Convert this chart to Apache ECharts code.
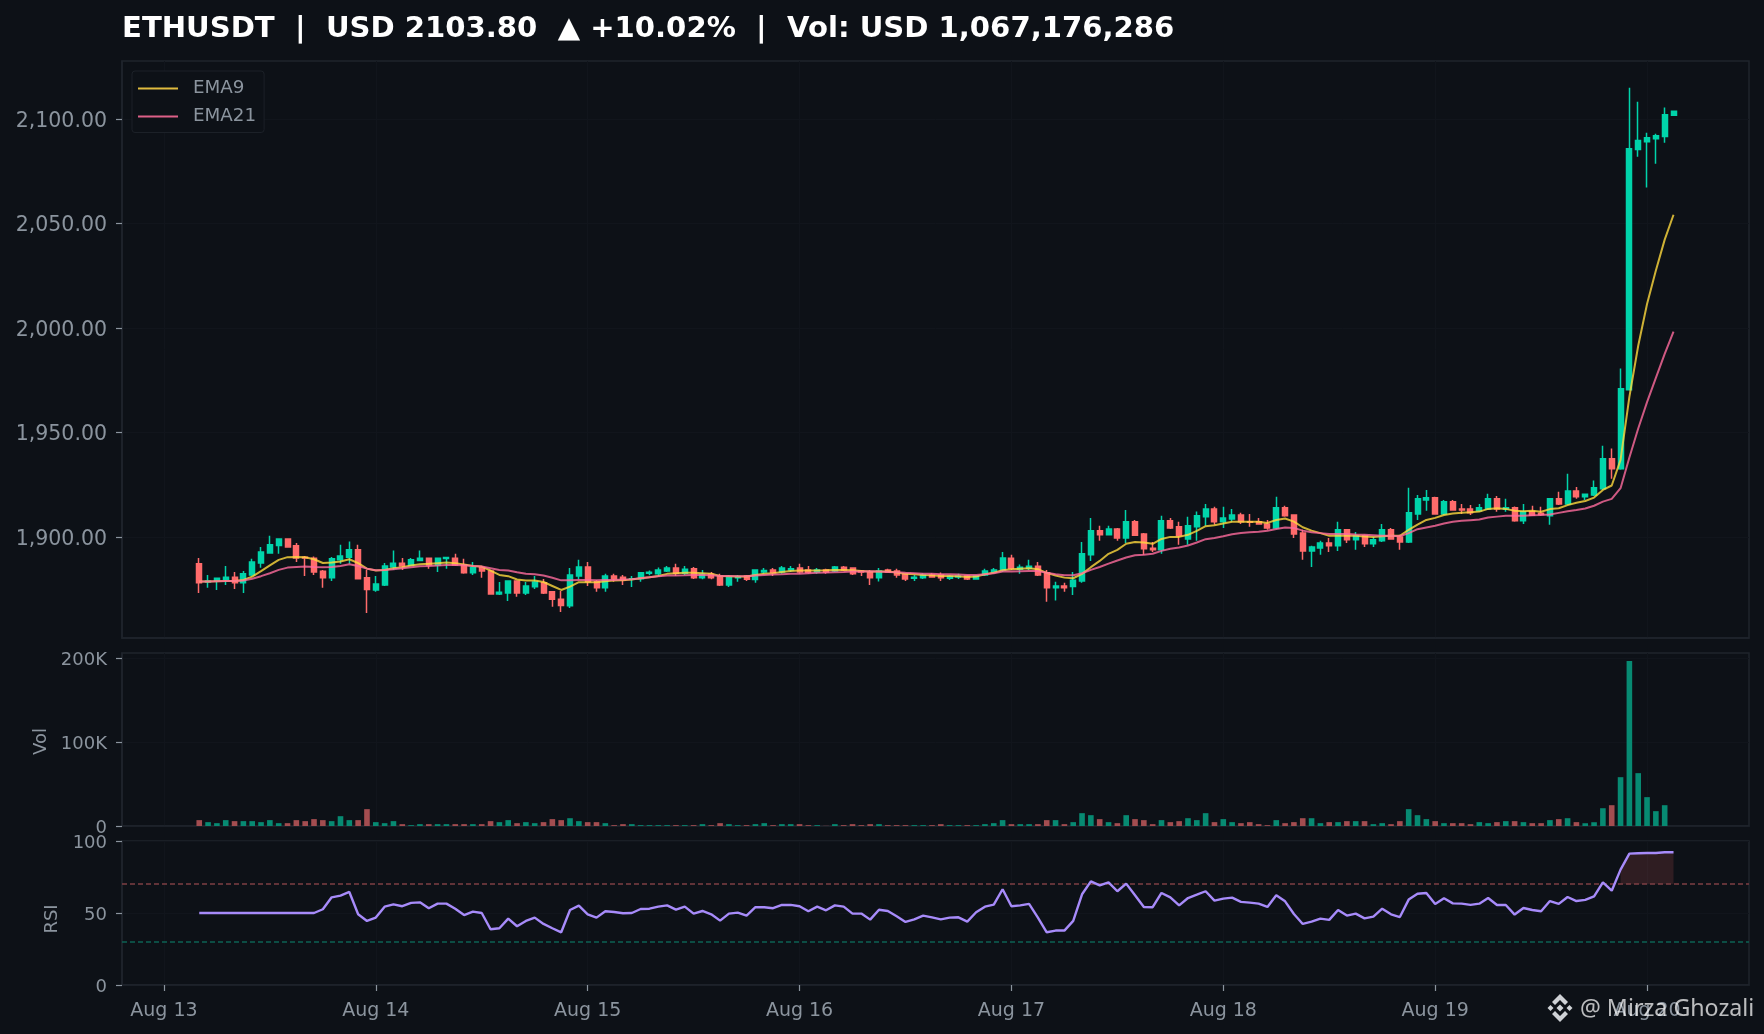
<!DOCTYPE html>
<html>
<head>
<meta charset="utf-8">
<style>html,body{margin:0;padding:0;background:#0d1117;}#c{width:1764px;height:1034px;}</style>
<script src="https://cdn.jsdelivr.net/npm/echarts@6/dist/echarts.min.js"></script>
</head>
<body>
<div id="c"></div>
<script>
const titleText = 'ETHUSDT  |  USD 2103.80  ▲ +10.02%  |  Vol: USD 1,067,176,286';
const firstHour = 4;
const dayTicks = [0, 24, 48, 72, 96, 120, 144, 168];
const dayLabels = ['Aug 13', 'Aug 14', 'Aug 15', 'Aug 16', 'Aug 17', 'Aug 18', 'Aug 19', 'Aug 20'];
const priceTicks = [1900, 1950, 2000, 2050, 2100];
const volTicks = [0, 100, 200];
const rsiTicks = [0, 50, 100];
// [open, close, low, high]
const candles = [
[1887.1,1878.1,1873.2,1889.9],[1878.4,1878.9,1875.7,1881.8],[1878.9,1880.2,1874.6,1880.4],[1879.7,1880.7,1877.0,1886.1],
[1880.7,1878.1,1875.1,1883.2],[1878.1,1882.3,1873.2,1883.7],[1881.8,1888.0,1881.0,1889.5],[1887.5,1892.8,1885.2,1895.2],
[1892.3,1896.2,1891.9,1900.6],[1895.9,1899.0,1891.9,1899.0],[1899.0,1895.2,1895.2,1899.0],[1895.7,1889.9,1888.0,1897.1],
[1890.3,1889.9,1881.3,1890.9],[1889.8,1883.2,1881.8,1890.6],[1883.6,1880.5,1875.6,1884.2],[1880.5,1889.5,1878.9,1890.4],
[1889.0,1890.9,1887.1,1896.2],[1890.3,1893.8,1887.1,1897.8],[1893.8,1880.0,1880.0,1896.2],[1880.4,1874.8,1863.6,1884.2],
[1874.6,1877.5,1873.7,1881.3],[1877.0,1886.1,1876.5,1887.5],[1885.6,1887.4,1884.2,1893.5],[1887.4,1886.1,1884.2,1889.9],
[1886.4,1889.0,1886.1,1889.9],[1888.7,1889.8,1888.5,1893.5],[1889.8,1886.6,1884.7,1889.8],[1886.6,1889.8,1883.2,1889.9],
[1889.6,1890.1,1884.7,1890.4],[1889.8,1886.6,1886.1,1891.9],[1886.6,1882.8,1882.3,1889.5],[1882.8,1885.2,1881.8,1888.0],
[1885.2,1883.7,1880.4,1886.1],[1883.7,1872.7,1872.7,1884.2],[1872.7,1873.5,1872.2,1878.4],[1873.2,1878.9,1869.3,1878.9],
[1878.9,1873.2,1871.3,1878.9],[1873.2,1876.5,1872.2,1878.4],[1876.1,1878.4,1875.1,1881.3],[1878.0,1873.2,1872.7,1879.9],
[1873.7,1870.2,1866.5,1874.1],[1870.2,1867.1,1864.1,1874.1],[1867.0,1881.8,1866.0,1885.1],[1881.3,1885.6,1879.7,1889.0],
[1885.6,1878.5,1876.5,1888.0],[1878.5,1875.6,1873.7,1879.4],[1875.6,1881.3,1873.7,1882.3],[1881.3,1880.0,1878.5,1882.3],
[1880.7,1879.4,1877.0,1881.8],[1879.7,1880.0,1876.0,1881.3],[1880.0,1882.8,1878.5,1883.2],[1882.6,1883.1,1881.6,1883.9],
[1882.3,1884.2,1881.3,1885.3],[1883.7,1885.1,1883.2,1886.1],[1885.1,1882.6,1881.3,1887.1],[1882.6,1884.5,1881.8,1886.1],
[1884.7,1880.4,1879.9,1885.6],[1880.4,1882.1,1879.7,1884.2],[1882.1,1880.4,1879.7,1883.2],[1881.3,1877.0,1876.5,1882.3],
[1877.0,1881.0,1876.0,1881.8],[1880.5,1881.0,1878.5,1881.8],[1881.3,1879.7,1878.9,1881.8],[1879.6,1884.2,1878.0,1884.2],
[1883.2,1883.9,1882.3,1885.1],[1884.2,1882.9,1881.3,1885.1],[1883.2,1885.1,1882.3,1886.1],[1884.2,1884.7,1883.2,1886.1],
[1885.1,1883.2,1882.3,1887.1],[1884.2,1882.9,1882.3,1886.1],[1883.2,1884.2,1882.3,1885.1],[1884.2,1883.2,1882.3,1884.7],
[1883.7,1885.6,1883.2,1886.1],[1885.5,1884.2,1883.7,1886.1],[1885.1,1882.3,1881.8,1885.1],[1883.7,1883.2,1881.3,1884.2],
[1883.2,1880.4,1877.0,1884.2],[1880.4,1883.7,1878.6,1885.1],[1884.2,1883.2,1882.9,1884.7],[1883.7,1881.8,1880.4,1884.7],
[1882.3,1879.9,1878.9,1882.6],[1880.2,1880.7,1878.9,1881.8],[1880.5,1881.8,1879.9,1882.6],[1881.8,1880.8,1880.4,1882.6],
[1881.8,1880.4,1878.9,1882.9],[1880.2,1881.2,1879.4,1881.8],[1880.8,1881.3,1879.9,1882.3],[1881.3,1879.9,1879.4,1881.8],
[1879.9,1881.3,1879.7,1881.8],[1881.8,1883.7,1881.3,1884.7],[1883.2,1884.2,1882.6,1885.1],[1884.2,1889.9,1883.2,1892.8],
[1889.8,1885.0,1884.2,1891.4],[1884.5,1885.5,1882.3,1886.8],[1885.0,1886.0,1884.2,1889.0],[1886.0,1881.8,1881.3,1888.0],
[1882.8,1875.6,1868.9,1884.2],[1875.6,1876.5,1869.5,1878.5],[1876.5,1875.7,1873.7,1878.1],[1876.2,1879.3,1872.2,1883.2],
[1878.9,1891.9,1878.0,1897.6],[1891.4,1902.9,1888.5,1909.1],[1902.9,1901.0,1898.1,1905.3],[1901.0,1903.8,1900.8,1905.3],
[1903.8,1899.5,1898.1,1904.3],[1899.5,1907.2,1897.1,1912.9],[1907.2,1900.8,1900.5,1908.1],[1901.4,1894.3,1891.4,1901.9],
[1894.6,1893.8,1892.8,1897.6],[1893.8,1907.7,1891.9,1910.1],[1907.7,1904.3,1903.8,1909.1],[1904.8,1900.5,1896.2,1907.2],
[1899.0,1905.3,1896.2,1909.7],[1904.8,1910.1,1898.1,1912.1],[1909.6,1913.4,1905.3,1915.8],[1913.4,1907.2,1905.8,1914.4],
[1907.2,1909.1,1904.3,1914.4],[1908.6,1910.5,1907.2,1913.4],[1910.5,1907.2,1906.2,1911.5],[1907.3,1907.0,1904.8,1911.0],
[1907.2,1906.2,1905.8,1909.1],[1906.2,1904.3,1903.4,1908.1],[1904.3,1913.9,1903.8,1919.2],[1913.9,1910.1,1909.6,1914.9],
[1910.5,1901.4,1899.5,1910.5],[1901.9,1893.3,1889.0,1903.4],[1893.3,1895.2,1885.6,1895.7],[1894.7,1897.1,1891.4,1898.1],
[1897.1,1895.7,1892.8,1899.5],[1895.7,1903.4,1893.3,1907.2],[1903.4,1898.6,1897.1,1903.8],[1898.6,1900.5,1893.8,1902.4],
[1900.5,1896.7,1895.2,1901.0],[1896.7,1898.6,1895.2,1900.0],[1898.1,1903.4,1897.6,1906.2],[1903.4,1899.0,1898.6,1904.3],
[1900.0,1897.6,1893.8,1901.0],[1897.6,1911.5,1897.1,1923.5],[1911.0,1918.2,1908.1,1920.1],[1917.7,1918.7,1912.5,1922.5],
[1918.7,1911.0,1911.0,1919.2],[1911.0,1916.8,1910.5,1917.7],[1916.8,1912.9,1912.9,1917.7],[1913.3,1912.9,1911.0,1915.8],
[1913.4,1911.5,1910.5,1915.3],[1912.5,1913.9,1912.0,1915.8],[1913.4,1918.2,1912.9,1920.6],[1918.2,1913.4,1912.0,1919.6],
[1913.4,1914.0,1912.0,1918.2],[1913.9,1907.7,1907.2,1914.5],[1907.7,1912.0,1906.2,1915.8],[1912.1,1910.4,1910.1,1914.9],
[1911.3,1910.7,1910.1,1914.4],[1910.1,1918.2,1905.8,1918.2],[1918.2,1915.8,1915.3,1921.6],[1915.8,1922.0,1915.3,1930.2],
[1922.0,1919.2,1918.2,1923.9],[1919.2,1920.4,1917.7,1920.6],[1920.1,1923.5,1919.6,1927.0],[1923.0,1937.4,1922.5,1943.6],
[1937.4,1932.6,1927.8,1942.3],[1932.6,1970.9,1932.1,1980.6],[1970.4,2085.8,1970.4,2115.0],[2085.4,2089.7,2082.0,2108.3],
[2089.2,2091.1,2067.2,2093.5],[2090.6,2092.0,2078.6,2093.0],[2091.6,2102.1,2088.7,2105.5],[2101.8,2103.8,2101.8,2104.0]
];
const ema9 = [
1878.6,1878.6,1878.8,1878.9,1878.9,1879.4,1881.0,1883.6,1886.4,1889.0,1890.3,1890.4,1890.3,1889.3,1887.5,1887.7,1888.2,1889.3,1887.4,1884.8,
1883.9,1884.2,1885.0,1885.5,1886.3,1886.9,1887.1,1887.4,1887.7,1887.4,1886.8,1886.1,1885.8,1883.9,1881.8,1881.2,1879.6,1879.1,1879.1,1878.4,
1876.5,1874.6,1876.2,1878.3,1878.3,1878.3,1878.8,1879.1,1879.2,1879.6,1880.2,1880.7,1881.3,1882.3,1882.6,1882.8,1882.8,1882.6,1882.4,1881.3,
1881.2,1881.0,1881.0,1881.8,1882.3,1882.6,1883.2,1883.7,1883.9,1883.9,1883.9,1884.0,1884.2,1884.2,1884.0,1883.7,1883.4,1883.4,1883.4,1882.9,
1882.3,1882.1,1881.8,1881.6,1881.3,1881.3,1881.2,1880.8,1881.0,1882.1,1882.8,1884.0,1884.5,1884.8,1885.0,1884.5,1882.8,1881.5,1880.5,1880.2,
1882.3,1885.5,1888.5,1891.9,1893.8,1896.7,1897.6,1897.3,1896.7,1899.0,1900.0,1900.0,1901.0,1902.9,1905.1,1905.6,1906.4,1907.2,1907.3,1907.3,
1907.2,1906.7,1908.1,1908.8,1907.3,1904.6,1903.0,1901.8,1900.5,1900.6,1900.6,1900.6,1900.2,1900.0,1900.3,1900.5,1900.5,1903.4,1905.9,1908.1,
1909.1,1910.5,1911.2,1911.6,1911.8,1912.1,1913.4,1913.7,1913.4,1912.5,1912.3,1912.5,1912.0,1913.3,1913.7,1915.2,1916.3,1917.2,1918.8,1922.5,
1924.6,1936.9,1967.0,1991.5,2011.5,2027.5,2042.3,2054.2
];
const ema21 = [
1878.6,1878.6,1878.8,1878.9,1878.9,1879.1,1880.0,1881.2,1882.6,1884.2,1885.3,1885.6,1885.8,1885.6,1885.5,1885.6,1886.1,1886.9,1886.1,1884.8,
1884.0,1884.2,1884.5,1885.0,1885.5,1886.0,1886.1,1886.3,1886.6,1886.6,1886.4,1886.1,1885.8,1885.0,1884.2,1883.9,1883.1,1882.4,1882.1,1881.5,
1880.4,1879.2,1879.2,1879.4,1879.4,1879.2,1879.4,1879.4,1879.6,1879.7,1880.2,1880.7,1881.2,1881.5,1881.5,1881.6,1881.8,1881.8,1881.6,1881.3,
1881.3,1881.2,1881.2,1881.5,1881.8,1882.0,1882.1,1882.3,1882.4,1882.6,1882.8,1882.9,1883.1,1883.2,1883.4,1883.4,1883.5,1883.4,1883.2,1883.1,
1882.8,1882.6,1882.4,1882.3,1882.1,1882.1,1882.0,1881.8,1881.8,1882.1,1882.6,1883.4,1883.4,1883.6,1883.7,1883.7,1882.8,1882.1,1881.6,1881.6,
1882.6,1884.2,1885.6,1887.2,1888.7,1890.1,1891.2,1891.5,1891.9,1893.3,1894.3,1894.9,1895.9,1897.3,1898.9,1899.5,1900.3,1901.3,1901.9,1902.2,
1902.5,1902.9,1903.8,1904.5,1904.3,1903.0,1902.2,1901.8,1901.4,1901.4,1901.4,1901.1,1901.0,1900.8,1900.5,1900.5,1900.3,1901.8,1903.7,1904.5,
1905.3,1906.4,1907.2,1907.7,1908.0,1908.3,1909.3,1909.7,1910.1,1910.1,1910.1,1910.4,1910.5,1910.7,1911.5,1912.3,1912.9,1913.6,1914.9,1916.9,
1918.2,1923.3,1938.0,1951.9,1964.5,1976.1,1987.6,1998.3
];
// thousands
const volumes = [
7.0,4.6,3.4,7.0,5.8,5.8,5.8,4.6,7.0,3.4,3.4,7.0,5.8,8.2,7.0,5.8,11.7,7.0,7.0,20.1,
4.6,3.4,5.8,2.2,1.0,2.2,2.2,2.2,2.2,2.2,2.2,2.2,2.2,5.8,4.6,7.0,3.4,4.6,3.4,4.6,
8.2,7.0,9.3,5.8,4.6,4.6,3.4,1.0,2.2,2.2,1.0,1.0,1.0,1.0,1.0,1.0,1.0,2.2,1.0,3.4,
2.2,1.0,1.0,2.2,3.4,1.0,2.2,2.2,2.2,1.0,1.0,0.2,2.2,1.0,2.2,1.0,2.2,2.2,1.0,1.0,
1.0,1.0,1.0,1.0,2.2,1.0,1.0,1.0,1.0,2.2,3.4,7.0,2.2,2.2,2.2,2.2,7.0,7.0,2.2,4.6,
15.3,12.9,8.2,4.6,3.4,12.9,8.2,7.0,2.2,7.0,4.6,5.8,9.3,7.0,15.3,4.6,8.2,4.6,3.4,4.6,
2.2,1.0,7.0,3.4,4.6,9.3,9.3,3.4,4.6,4.6,5.8,5.8,5.8,2.2,3.4,2.2,5.8,20.1,12.9,8.2,
5.8,3.4,3.4,3.4,2.2,4.6,3.4,4.6,5.8,5.8,4.6,3.4,3.4,7.0,8.2,9.3,4.6,3.3,4.5,21.2,
24.8,58.2,196.6,63.0,34.4,17.7,24.8,0
];
const rsi = [
50,50,50,50,50,50,50,50,50,50,50,50,50,50,52.6,60.9,62.1,64.6,49.1,44.5,
46.8,54.4,56.0,54.7,57.0,57.4,53.3,56.5,56.5,53.0,48.6,51.0,50.0,38.7,39.4,46.1,40.8,44.5,46.8,42.4,
39.4,36.6,52.1,55.1,49.1,46.8,51.2,50.7,49.8,50.0,52.8,53.0,54.4,55.3,52.3,54.4,49.6,51.4,49.1,44.7,
49.6,50.3,48.2,54.0,54.0,53.3,55.6,55.6,54.7,51.2,54.4,51.9,55.3,54.4,49.6,49.6,45.4,52.3,51.4,47.7,
43.8,45.6,48.2,47.0,45.6,46.8,47.0,44.0,50.5,54.4,55.8,66.5,54.7,55.3,56.3,46.8,36.6,37.8,37.8,44.5,
63.0,72.0,69.2,71.3,65.1,70.4,62.3,54.2,54.0,63.9,60.9,55.3,60.4,62.7,65.1,58.6,60.0,60.7,57.7,57.2,
56.5,54.2,62.3,58.1,49.3,42.4,44.0,46.1,45.2,52.1,48.2,49.6,46.3,47.5,53.0,49.1,47.2,59.3,63.4,63.9,
56.3,60.2,56.7,56.5,55.6,56.5,60.4,55.6,55.6,48.9,53.5,52.1,51.2,58.3,56.3,61.1,58.3,59.1,61.6,71.3,
65.5,80.1,91.2,91.5,91.7,91.7,92.2,92.2
];
const overboughtFrom = 161;

const UP = '#00d4aa', DOWN = '#ff6b6b', TXT = '#8b949e', EDGE = '#1f242c', GRIDC = '#11151c';
const hourOf = i => firstHour + i;
const withHour = arr => arr.map((v, i) => [hourOf(i), v]);
const xMin = -4.75, xMax = 179.55;

function xAxis(grid, labels) {
  return {
    type: 'value', gridIndex: grid, min: xMin, max: xMax, scale: true, position: 'bottom',
    axisLine: { show: true, onZero: false, lineStyle: { color: EDGE, width: 1.5 } },
    axisTick: { show: labels, customValues: dayTicks, length: 6, lineStyle: { color: TXT, width: 1.2 } },
    splitLine: { show: true, lineStyle: { color: GRIDC, width: 1 } },
    axisLabel: labels ? {
      show: true, customValues: dayTicks, color: TXT, fontSize: 19, fontFamily: 'DejaVu Sans', margin: 17,
      hideOverlap: false, showMinLabel: true, showMaxLabel: true,
      formatter: v => dayLabels[dayTicks.indexOf(v)]
    } : { show: false, customValues: dayTicks }
  };
}
function yAxis(grid, min, max, ticks, fmt, fs, name, gap, namePad) {
  return {
    type: 'value', gridIndex: grid, min, max, scale: true, position: 'left',
    name: name || '', nameLocation: 'middle', nameGap: gap, nameRotate: 90,
    nameTextStyle: { color: TXT, fontSize: 18, fontFamily: 'DejaVu Sans', padding: namePad || 0 },
    axisLine: { show: true, onZero: false, lineStyle: { color: EDGE, width: 1.5 } },
    axisTick: { show: true, inside: false, customValues: ticks, length: 6, lineStyle: { color: TXT, width: 1.2 } },
    splitLine: { show: true, lineStyle: { color: GRIDC, width: 1 } },
    axisLabel: { show: true, customValues: ticks, color: TXT, fontSize: fs, fontFamily: 'DejaVu Sans', margin: 15, verticalAlign: 'top', lineHeight: 5, formatter: fmt, showMinLabel: true, showMaxLabel: true, hideOverlap: false }
  };
}
const gridBase = { show: true, left: 122, right: 15, borderColor: EDGE, borderWidth: 1.5, backgroundColor: 'transparent', containLabel: false };

const chart = echarts.init(document.getElementById('c'), null, { renderer: 'canvas', width: 1764, height: 1034 });
chart.setOption({
  animation: false,
  backgroundColor: '#0d1117',
  title: {
    text: titleText, left: 122, top: 15, padding: 0,
    textStyle: { color: '#ffffff', fontWeight: 'bold', fontSize: 29.12, fontFamily: 'DejaVu Sans' }
  },
  legend: {
    left: 132, top: 71, orient: 'vertical', padding: [8.5, 8, 7, 6], itemWidth: 40, itemHeight: 2, itemGap: 10,
    backgroundColor: '#0d1117', borderColor: '#1c2128', borderWidth: 1, borderRadius: 3,
    textStyle: { color: TXT, fontSize: 18.3, fontFamily: 'DejaVu Sans', padding: [0, 0, 0, 10] },
    data: [{ name: 'EMA9', icon: 'rect' }, { name: 'EMA21', icon: 'rect' }]
  },
  grid: [
    Object.assign({}, gridBase, { top: 61, height: 577 }),
    Object.assign({}, gridBase, { top: 653, height: 173 }),
    Object.assign({}, gridBase, { top: 841, height: 144 })
  ],
  xAxis: [xAxis(0, false), xAxis(1, false), xAxis(2, true)],
  yAxis: [
    yAxis(0, 1851.6, 2127.8, priceTicks, v => v.toLocaleString('en-US', { minimumFractionDigits: 2, maximumFractionDigits: 2 }), 20.5),
    yAxis(1, 0, 206.2, volTicks, v => v === 0 ? '0' : v + 'K', 18, 'Vol', 72, [0, 4, 0, 0]),
    yAxis(2, 0, 100, rsiTicks, v => String(v), 18, 'RSI', 52, [0, 12, 0, 0])
  ],
  series: [
    {
      type: 'candlestick', name: 'Price', xAxisIndex: 0, yAxisIndex: 0, barWidth: 5.5,
      encode: { x: 0, y: [1, 2, 3, 4] },
      data: candles.map((c, i) => [hourOf(i), c[0], c[1], c[2], c[3]]),
      itemStyle: { color: UP, color0: DOWN, borderColor: UP, borderColor0: DOWN, borderWidth: 1.5 }
    },
    {
      type: 'line', name: 'EMA9', xAxisIndex: 0, yAxisIndex: 0, data: withHour(ema9), showSymbol: false,
      itemStyle: { color: '#e0bb3f' }, lineStyle: { color: '#ffd93d', width: 2, opacity: 0.8 }, z: 5
    },
    {
      type: 'line', name: 'EMA21', xAxisIndex: 0, yAxisIndex: 0, data: withHour(ema21), showSymbol: false,
      itemStyle: { color: '#dd6088' }, lineStyle: { color: '#ff6b9d', width: 2, opacity: 0.8 }, z: 6
    },
    {
      type: 'bar', name: 'Volume', xAxisIndex: 1, yAxisIndex: 1, barWidth: 5.6,
      data: volumes.map((v, i) => ({
        value: [hourOf(i), v],
        itemStyle: { color: candles[i][1] >= candles[i][0] ? '#078a72' : '#a34d50' }
      }))
    },
    {
      type: 'line', name: 'Overbought', xAxisIndex: 2, yAxisIndex: 2, showSymbol: false,
      data: withHour(rsi).slice(overboughtFrom),
      lineStyle: { width: 0 }, itemStyle: { color: '#ff6b6b' },
      areaStyle: { origin: 70, color: 'rgba(255,107,107,0.2)' }, z: 3
    },
    {
      type: 'line', name: 'RSI', xAxisIndex: 2, yAxisIndex: 2, data: withHour(rsi), showSymbol: false,
      lineStyle: { color: '#a78bfa', width: 2.4 }, itemStyle: { color: '#a78bfa' }, z: 5,
      markLine: {
        silent: true, symbol: 'none', animation: false, label: { show: false },
        data: [
          { yAxis: 70, lineStyle: { color: '#7d3f44', type: [5, 3], width: 1.5 } },
          { yAxis: 30, lineStyle: { color: '#0c6154', type: [5, 3], width: 1.5 } }
        ]
      }
    }
  ],
  graphic: [
    { type: 'text', left: 1580, top: 998, z: 100, silent: true,
      style: { text: '@ Mirza Ghozali', fill: 'rgba(255,255,255,0.72)', font: '23.2px "Noto Sans"' } },
    { type: 'group', x: 1560, y: 1008, z: 100, silent: true, children: [
      { type: 'polygon', shape: { points: [[0, -14], [8, -6], [5, -3], [0, -8], [-5, -3], [-8, -6]] }, style: { fill: '#cfd2d6' } },
      { type: 'polygon', shape: { points: [[0, 14], [8, 6], [5, 3], [0, 8], [-5, 3], [-8, 6]] }, style: { fill: '#cfd2d6' } },
      { type: 'polygon', shape: { points: [[0, -3.5], [3.5, 0], [0, 3.5], [-3.5, 0]] }, style: { fill: '#cfd2d6' } },
      { type: 'polygon', shape: { points: [[-9.5, -3], [-6.5, 0], [-9.5, 3], [-12.5, 0]] }, style: { fill: '#cfd2d6' } },
      { type: 'polygon', shape: { points: [[9.5, -3], [12.5, 0], [9.5, 3], [6.5, 0]] }, style: { fill: '#cfd2d6' } }
    ] }
  ]
});
</script>
</body>
</html>
